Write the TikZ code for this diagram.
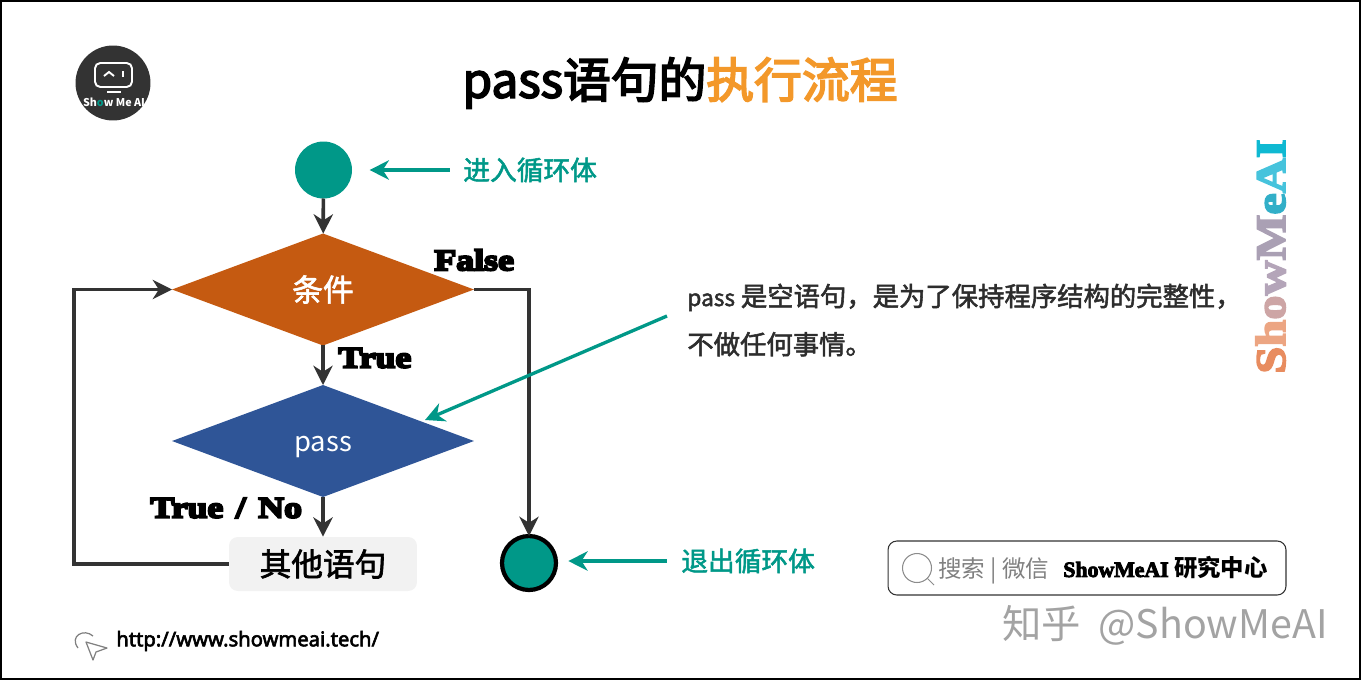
\documentclass[tikz,border=0pt]{standalone}
\usepackage{fontspec}
\setmainfont{Noto Sans CJK SC}
\newfontfamily\heavyfont[FakeBold=7,FakeStretch=1.2]{Liberation Serif Bold}
\newfontfamily\brandfont[FakeBold=4,FakeStretch=1.15]{Liberation Serif Bold}
\newfontfamily\tagfont[FakeBold=4]{Liberation Serif Bold}
\newfontfamily\webfont[FakeBold=3]{Noto Sans}
\newfontfamily\mediumfont[FakeBold=2]{Noto Sans CJK SC}
\newfontfamily\titlefont[FakeBold=3.5]{Noto Sans CJK SC}
\usetikzlibrary{shapes.geometric,arrows.meta}
\definecolor{showteal}{RGB}{0, 152, 136}
\definecolor{condorange}{RGB}{197, 90, 17}
\definecolor{passblue}{RGB}{47, 85, 151}
\definecolor{flowgray}{RGB}{51, 51, 51}
\definecolor{titleorange}{RGB}{243, 152, 42}
\definecolor{notegray}{RGB}{45, 45, 45}

\begin{document}
\begin{tikzpicture}[
    x=0.02cm, y=-0.02cm,
    dot/.style={circle, fill=showteal, minimum size=1.14cm, inner sep=0pt, outer sep=0pt},
    branch/.style={diamond, aspect=2.7, minimum width=6.04cm, minimum height=2.24cm, inner sep=0pt, outer sep=0pt, text=white},
    flow/.style={-{Stealth[length=11pt, width=11pt, inset=3.5pt]}, line width=2.1pt, flowgray},
    pointer/.style={-{Stealth[length=11pt, width=11pt, inset=3.5pt]}, line width=1.9pt, showteal},
    flowlabel/.style={font=\heavyfont\fontsize{17}{17}\selectfont, text=black, inner sep=0pt},
    tealtext/.style={font=\mediumfont\fontsize{15.2}{15.2}\selectfont, text=showteal, inner sep=0pt}
  ]
    \useasboundingbox (0, 0) rectangle (1361, 680);
    \draw[line width=1.2pt, black] (1, 1) rectangle (1360, 679);

    \node[circle, fill=flowgray, minimum size=1.5cm, inner sep=0pt] at (113, 83) (logo) {};
    \draw[white, line width=1.1pt, rounded corners=3pt] (95, 63) rectangle (132, 87);
    \draw[white, line width=1.1pt] (104, 76) -- (109, 72) -- (114, 76);
    \draw[white, line width=1.2pt] (123, 71) -- (123, 77);
    \draw[white, line width=1.3pt] (107, 92) -- (121, 92);
    \node[inner sep=0pt, text=white, font=\bfseries\fontsize{6.1}{6.1}\selectfont] at (114, 102) (logotext) {Sh{\color{showteal}o}w Me AI};

    \node[inner sep=0pt, font=\titlefont\fontsize{27.2}{27.2}\selectfont] at (680, 83) (title) {pass语句的{\color{titleorange}执行流程}};

    \node[dot] at (323.5, 170) (start) {};
    \node[branch, fill=condorange, font=\mediumfont\fontsize{17.5}{17.5}\selectfont] at (323, 289.5) (cond) {条件};
    \node[branch, fill=passblue, font=\fontsize{15.6}{15.6}\selectfont, text height=13pt, text depth=1pt] at (323, 441) (passnode) {pass};
    \node[rectangle, fill=black!5, rounded corners=5pt, minimum width=3.76cm, minimum height=1.08cm, inner sep=0pt, font=\mediumfont\fontsize{18}{18}\selectfont] at (323, 564) (other) {其他语句};
    \node[dot, draw=black, line width=2.4pt, minimum size=1.08cm] at (529, 563) (stop) {};

    \node[tealtext, anchor=west] at (463, 170) (enterlabel) {进入循环体};
    \node[tealtext, anchor=west] at (681, 561) (exitlabel) {退出循环体};
    \node[flowlabel, anchor=west] at (434, 260) (falselabel) {False};
    \node[flowlabel, anchor=west] at (338, 358) (truelabel) {True};
    \node[flowlabel, anchor=west] at (150, 508) (truenolabel) {True\hspace{2pt} / \hspace{2pt}No};
    \node[anchor=west, align=left, inner sep=0pt, text=notegray, font=\mediumfont\fontsize{15}{27.4}\selectfont] at (687, 320) (note) {{\fontsize{12.9}{27.4}\selectfont pass} 是空语句，是为了保持程序结构的完整性，\\不做任何事情。};

    \coordinate (loopleft) at (74, 289.5);
    \coordinate (notetail) at (667, 316);
    \coordinate (notetip) at (425, 420);

    \draw[flow] (start) -- (cond);
    \draw[flow] (cond) -- (passnode);
    \draw[flow] (passnode) -- (other);
    \draw[flow] (cond.east) -| (stop.north);
    \draw[flow] (other.west) -| (loopleft) -- (cond.west);
    \draw[pointer, yshift=-1.1pt, shorten <=7.5pt, shorten >=10pt] (enterlabel.west) -- (start.east);
    \draw[pointer, shorten <=8pt, shorten >=7pt] (exitlabel.west) -- (exitlabel.west -| stop.east);
    \draw[pointer] (notetail) -- (notetip);

    \node[rotate=90, anchor=base west, inner sep=0pt, font=\brandfont\fontsize{24}{24}\selectfont] at (1285, 374) (brand) {{\color[RGB]{232,140,95}S}{\color[RGB]{236,165,130}h}{\color[RGB]{205,165,165}o}{\color[RGB]{180,165,185}w}{\color[RGB]{170,160,180}M}{\color[RGB]{50,175,200}e}{\color[RGB]{70,195,220}A}{\color[RGB]{15,185,210}I}};

    \node[draw=flowgray, line width=0.6pt, rounded corners=5pt, minimum width=7.96cm, minimum height=1.08cm, inner sep=0pt] at (1087, 568) (searchbox) {};
    \node[circle, draw=black!45, line width=0.6pt, minimum size=0.58cm, inner sep=0pt] at (917, 568) (lens) {};
    \coordinate (lensend) at (934, 585);
    \draw[black!45, line width=0.6pt] (lens.south east) -- (lensend);
    \node[anchor=west, inner sep=0pt, text=black!50, font=\fontsize{13.4}{13.4}\selectfont] at (938, 571) (searchtext) {搜索 | 微信};
    \node[anchor=west, inner sep=0pt, font=\bfseries\fontsize{13.3}{13.3}\selectfont] at (1063, 568) (centertext) {{\tagfont\fontsize{12.4}{12.4}\selectfont ShowMeAI} 研究中心};
    \node[anchor=west, inner sep=0pt, text=black!36, font=\fontsize{22.4}{22.4}\selectfont] at (1002, 625) (zhihu) {知乎\hspace{10pt}@ShowMeAI};

    \draw[black!50, line width=0.7pt, line join=round] (86, 642) -- (107, 648) -- (96, 652) -- (93, 660) -- cycle;
    \draw[black!50, line width=0.7pt] (93, 636) .. controls (84, 628) and (69, 636) .. (78, 648);
    \node[anchor=west, inner sep=0pt, font=\webfont\fontsize{11.5}{11.5}\selectfont] at (116, 641) (website) {http://www.showmeai.tech/};
  \end{tikzpicture}
\end{document}
